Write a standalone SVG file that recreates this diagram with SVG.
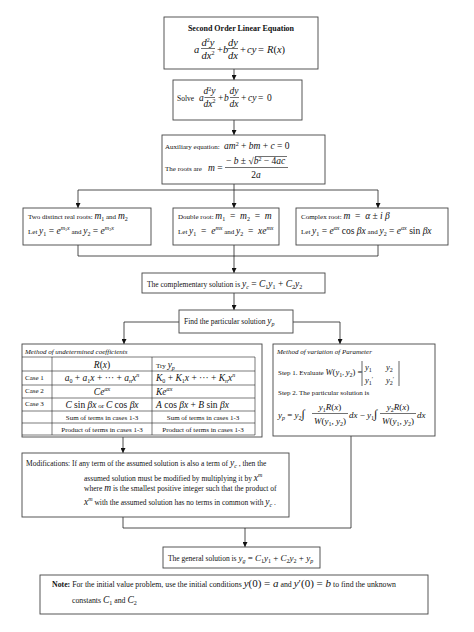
<svg xmlns="http://www.w3.org/2000/svg" width="474" height="632" viewBox="0 0 474 632">
<style>
text{font-family:"Liberation Serif","Times New Roman",serif;font-size:7px;fill:#111}
.m{font-style:italic;font-size:9.5px}
.r{font-style:normal}
.s{font-size:6px}
.b{font-weight:bold}
.i{font-style:italic}
.o{font-size:9.5px}
.e{font-size:10.5px}
.t75{font-size:7.5px}
.box{fill:#fff;stroke:#444;stroke-width:0.9}
.ln{stroke:#222;stroke-width:0.8;fill:none}
.bar{stroke:#111;stroke-width:0.6}
</style>
<defs>
<marker id="ah" markerWidth="5" markerHeight="5" refX="5" refY="2.5" orient="auto" markerUnits="userSpaceOnUse"><path d="M0,0 L5,2.5 L0,5 z" fill="#111"/></marker>
</defs>
<rect width="474" height="632" fill="#fff"/>

<g id="connectors">
<path class="ln" d="M234,69 V80" marker-end="url(#ah)"/>
<path class="ln" d="M234,120 V135" marker-end="url(#ah)"/>
<path class="ln" d="M234,184 V190 M78,190 H378"/>
<path class="ln" d="M78,190 V208" marker-end="url(#ah)"/>
<path class="ln" d="M234,190 V208" marker-end="url(#ah)"/>
<path class="ln" d="M378,190 V208" marker-end="url(#ah)"/>
<path class="ln" d="M78,245 V256 M234,245 V256 M378,245 V256 M78,256 H378"/>
<path class="ln" d="M234,256 V273" marker-end="url(#ah)"/>
<path class="ln" d="M234,293 V310" marker-end="url(#ah)"/>
<path class="ln" d="M179,322 H124 V344" marker-end="url(#ah)"/>
<path class="ln" d="M293,322 H340 V344" marker-end="url(#ah)"/>
<path class="ln" d="M123,437 V453" marker-end="url(#ah)"/>
<path class="ln" d="M123,517 V528 H351 V436"/>
<path class="ln" d="M245,528 V547" marker-end="url(#ah)"/>
</g>

<g id="n1">
<rect class="box" x="164" y="17" width="154" height="52"/>
<text x="241" y="31" text-anchor="middle" class="b" style="font-size:8px">Second Order Linear Equation</text>
<text x="194" y="53" class="m e">a</text>
<text x="208" y="45.5" text-anchor="middle" class="m e">d<tspan class="s r" dy="-4">2</tspan><tspan dy="4">y</tspan></text>
<line class="bar" x1="201" y1="48.5" x2="215" y2="48.5"/>
<text x="208" y="58.5" text-anchor="middle" class="m e">dx<tspan class="s r" dy="-4">2</tspan></text>
<text x="217" y="53" class="e">+</text>
<text x="223" y="53" class="m e">b</text>
<text x="233" y="45.5" text-anchor="middle" class="m e">dy</text>
<line class="bar" x1="228" y1="48.5" x2="238" y2="48.5"/>
<text x="233" y="58.5" text-anchor="middle" class="m e">dx</text>
<text x="240" y="53" class="e">+</text>
<text x="247" y="53" class="m e">cy</text>
<text x="258" y="53" class="e">=</text>
<text x="267" y="53" class="m e">R<tspan class="r">(</tspan>x<tspan class="r">)</tspan></text>
</g>

<g id="n2">
<rect class="box" x="173" y="80" width="129" height="40"/>
<text x="177" y="101" class="t75">Solve</text>
<text x="199" y="101" class="m">a</text>
<text x="209.5" y="94" text-anchor="middle" class="m">d<tspan class="s r" dy="-3.5">2</tspan><tspan dy="3.5">y</tspan></text>
<line class="bar" x1="204.5" y1="97.5" x2="215" y2="97.5"/>
<text x="209.5" y="106.5" text-anchor="middle" class="m">dx<tspan class="s r" dy="-3.5">2</tspan></text>
<text x="218" y="101" class="o">+</text>
<text x="224" y="101" class="m">b</text>
<text x="234" y="94" text-anchor="middle" class="m">dy</text>
<line class="bar" x1="230" y1="97.5" x2="239" y2="97.5"/>
<text x="234" y="106.5" text-anchor="middle" class="m">dx</text>
<text x="241" y="101" class="o">+</text>
<text x="248" y="101" class="m">cy</text>
<text x="258" y="101" class="o">=</text>
<text x="267" y="101" class="o">0</text>
</g>

<g id="n3">
<rect class="box" x="162" y="135" width="163" height="49"/>
<text x="165" y="149">Auxiliary equation:</text>
<text x="224" y="149" class="m">am<tspan class="s r" dy="-3.5">2</tspan><tspan class="r" dy="3.5"> + </tspan>bm<tspan class="r"> + </tspan>c<tspan class="r"> = 0</tspan></text>
<text x="165" y="171">The roots are</text>
<text x="208" y="171" class="m">m<tspan class="r"> =</tspan></text>
<text x="226" y="164" class="m"><tspan class="r">− </tspan>b<tspan class="r"> ± √</tspan>b<tspan class="s r" dy="-3.5">2</tspan><tspan class="r" dy="3.5"> − 4</tspan>ac</text>
<line class="bar" x1="255" y1="156.5" x2="287" y2="156.5"/>
<line class="bar" x1="225" y1="167.5" x2="288" y2="167.5"/>
<text x="256" y="178" text-anchor="middle" class="m"><tspan class="r">2</tspan>a</text>
</g>

<g id="n4">
<rect class="box" x="23" y="208" width="128" height="37"/>
<text x="28" y="219">Two distinct real roots: <tspan class="m">m</tspan><tspan class="s" dy="2">1</tspan><tspan dy="-2"> and </tspan><tspan class="m">m</tspan><tspan class="s" dy="2">2</tspan></text>
<text x="28" y="234">Let <tspan class="m">y</tspan><tspan class="s" dy="2">1</tspan><tspan dy="-2" class="o"> = </tspan><tspan class="m">e</tspan><tspan class="s i" dy="-4">m</tspan><tspan style="font-size:4px" dy="1">1</tspan><tspan class="s i" dy="-1">x</tspan><tspan dy="4"> and </tspan><tspan class="m">y</tspan><tspan class="s" dy="2">2</tspan><tspan dy="-2" class="o"> = </tspan><tspan class="m">e</tspan><tspan class="s i" dy="-4">m</tspan><tspan style="font-size:4px" dy="1">2</tspan><tspan class="s i" dy="-1">x</tspan></text>
</g>

<g id="n5">
<rect class="box" x="173" y="208" width="106" height="37"/>
<text x="178" y="219">Double root: <tspan class="m">m</tspan><tspan class="s" dy="2">1</tspan><tspan dy="-2" class="o">&#8194;=&#8194;</tspan><tspan class="m">m</tspan><tspan class="s" dy="2">2</tspan><tspan dy="-2" class="o">&#8194;=&#8194;</tspan><tspan class="m">m</tspan></text>
<text x="178" y="234">Let <tspan class="m">y</tspan><tspan class="s" dy="2">1</tspan><tspan dy="-2" class="o">&#8194;=&#8194;</tspan><tspan class="m">e</tspan><tspan class="s i" dy="-4">mx</tspan><tspan dy="4"> and </tspan><tspan class="m">y</tspan><tspan class="s" dy="2">2</tspan><tspan dy="-2" class="o">&#8194;=&#8194;</tspan><tspan class="m">xe</tspan><tspan class="s i" dy="-4">mx</tspan></text>
</g>

<g id="n6">
<rect class="box" x="296" y="208" width="152" height="37"/>
<text x="301" y="219">Complex root: <tspan class="m">m</tspan><tspan class="o">&#8194;=&#8194;</tspan><tspan class="m">α</tspan><tspan class="o"> ± </tspan><tspan class="m">i β</tspan></text>
<text x="301" y="234">Let <tspan class="m">y</tspan><tspan class="s" dy="2">1</tspan><tspan dy="-2" class="o"> = </tspan><tspan class="m">e</tspan><tspan class="s i" dy="-4">αx</tspan><tspan dy="4" class="o"> cos </tspan><tspan class="m">βx</tspan> and <tspan class="m">y</tspan><tspan class="s" dy="2">2</tspan><tspan dy="-2" class="o"> = </tspan><tspan class="m">e</tspan><tspan class="s i" dy="-4">αx</tspan><tspan dy="4" class="o"> sin </tspan><tspan class="m">βx</tspan></text>
</g>

<g id="n7">
<rect class="box" x="142" y="273" width="183" height="20"/>
<text x="147" y="287" class="t75">The complementary solution is <tspan class="m">y</tspan><tspan class="s i" dy="2">c</tspan><tspan dy="-2" class="o"> = </tspan><tspan class="m">C</tspan><tspan class="s" dy="2">1</tspan><tspan class="m" dy="-2">y</tspan><tspan class="s" dy="2">1</tspan><tspan dy="-2" class="o"> + </tspan><tspan class="m">C</tspan><tspan class="s" dy="2">2</tspan><tspan class="m" dy="-2">y</tspan><tspan class="s" dy="2">2</tspan></text>
</g>

<g id="n8">
<rect class="box" x="179" y="310" width="114" height="23"/>
<text x="184" y="324" class="t75">Find the particular solution <tspan class="m">y</tspan><tspan class="s i" dy="2">p</tspan></text>
</g>

<g id="n9">
<rect class="box" x="22" y="344" width="240" height="93"/>
<path class="ln" style="stroke-width:0.6" d="M22,357 H255 M22,371 H255 M22,385 H255 M22,398 H255 M22,411 H255 M22,423 H255 M22,435 H255 M52,357 V435 M152,357 V435 M255,357 V435"/>
<text x="25" y="354" class="i">Method of undetermined coefficients</text>
<text x="102" y="368" text-anchor="middle" class="m">R<tspan class="r">(</tspan>x<tspan class="r">)</tspan></text>
<text x="156" y="368">Try <tspan class="m">y</tspan><tspan class="s i" dy="2">p</tspan></text>
<text x="25" y="380">Case 1</text>
<text x="102" y="381" text-anchor="middle" class="m">a<tspan class="s r" dy="2">0</tspan><tspan class="r" dy="-2"> + </tspan>a<tspan class="s r" dy="2">1</tspan><tspan dy="-2">x</tspan><tspan class="r"> + ··· + </tspan>a<tspan class="s" dy="2">n</tspan><tspan dy="-2">x</tspan><tspan class="s" dy="-4">n</tspan></text>
<text x="156" y="381" class="m">K<tspan class="s r" dy="2">0</tspan><tspan class="r" dy="-2"> + </tspan>K<tspan class="s r" dy="2">1</tspan><tspan dy="-2">x</tspan><tspan class="r"> + ··· + </tspan>K<tspan class="s" dy="2">n</tspan><tspan dy="-2">x</tspan><tspan class="s" dy="-4">n</tspan></text>
<text x="25" y="393">Case 2</text>
<text x="102" y="395" text-anchor="middle" class="m">Ce<tspan class="s" dy="-4">αx</tspan></text>
<text x="156" y="395" class="m">Ke<tspan class="s" dy="-4">αx</tspan></text>
<text x="25" y="406">Case 3</text>
<text x="102" y="408" text-anchor="middle" class="m">C<tspan class="r"> sin </tspan>βx<tspan class="r" style="font-size:7px"> or </tspan>C<tspan class="r"> cos </tspan>βx</text>
<text x="156" y="408" class="m">A<tspan class="r"> cos </tspan>βx<tspan class="r"> + </tspan>B<tspan class="r"> sin </tspan>βx</text>
<text x="102" y="420" text-anchor="middle">Sum of terms in cases 1-3</text>
<text x="203" y="420" text-anchor="middle">Sum of terms in cases 1-3</text>
<text x="102" y="432" text-anchor="middle">Product of terms in cases 1-3</text>
<text x="203" y="432" text-anchor="middle">Product of terms in cases 1-3</text>
</g>

<g id="n10">
<rect class="box" x="273" y="344" width="162" height="92"/>
<text x="277" y="354" class="i">Method of variation of Parameter</text>
<text x="278" y="375">Step 1. Evaluate <tspan class="m" style="font-size:8.5px">W</tspan><tspan style="font-size:8.5px">(</tspan><tspan class="m" style="font-size:8.5px">y</tspan><tspan class="s" dy="2">1</tspan><tspan dy="-2">, </tspan><tspan class="m" style="font-size:8.5px">y</tspan><tspan class="s" dy="2">2</tspan><tspan dy="-2" style="font-size:8.5px">) =</tspan></text>
<path class="ln" style="stroke-width:0.7" d="M362,361 V386 M399,361 V386"/>
<text x="365" y="370" class="m" style="font-size:8.5px">y<tspan class="s r" dy="2">1</tspan></text>
<text x="386" y="370" class="m" style="font-size:8.5px">y<tspan class="s r" dy="2">2</tspan></text>
<text x="365" y="383" class="m" style="font-size:8.5px">y<tspan class="s r" dy="2">1</tspan><tspan class="s r" dy="-4">′</tspan></text>
<text x="386" y="383" class="m" style="font-size:8.5px">y<tspan class="s r" dy="2">2</tspan><tspan class="s r" dy="-4">′</tspan></text>
<text x="278" y="395">Step 2. The particular solution is</text>
<text x="278" y="418" class="m" style="font-size:9px">y<tspan class="s" dy="2">p</tspan><tspan class="r" dy="-2"> = </tspan>y<tspan class="s r" dy="2">2</tspan><tspan class="r" dy="-2" style="font-size:12px">∫</tspan></text>
<text x="330" y="410" text-anchor="middle" class="m" style="font-size:9px">y<tspan class="s r" dy="2">1</tspan><tspan dy="-2">R</tspan><tspan class="r">(</tspan>x<tspan class="r">)</tspan></text>
<line class="bar" x1="312" y1="413.5" x2="348" y2="413.5"/>
<text x="330" y="424" text-anchor="middle" class="m" style="font-size:9px">W<tspan class="r">(</tspan>y<tspan class="s r" dy="2">1</tspan><tspan class="r" dy="-2">, </tspan>y<tspan class="s r" dy="2">2</tspan><tspan class="r" dy="-2">)</tspan></text>
<text x="349" y="418" class="m" style="font-size:9px">dx<tspan class="r"> − </tspan>y<tspan class="s r" dy="2">1</tspan><tspan class="r" dy="-2" style="font-size:12px">∫</tspan></text>
<text x="398" y="410" text-anchor="middle" class="m" style="font-size:9px">y<tspan class="s r" dy="2">2</tspan><tspan dy="-2">R</tspan><tspan class="r">(</tspan>x<tspan class="r">)</tspan></text>
<line class="bar" x1="380" y1="413.5" x2="416" y2="413.5"/>
<text x="398" y="424" text-anchor="middle" class="m" style="font-size:9px">W<tspan class="r">(</tspan>y<tspan class="s r" dy="2">1</tspan><tspan class="r" dy="-2">, </tspan>y<tspan class="s r" dy="2">2</tspan><tspan class="r" dy="-2">)</tspan></text>
<text x="417" y="418" class="m" style="font-size:9px">dx</text>
</g>

<g id="n11">
<rect class="box" x="22" y="453" width="267" height="64"/>
<text x="26" y="466" class="t75">Modifications: If any term of the assumed solution is also a term of <tspan class="m">y</tspan><tspan class="s i" dy="2">c</tspan><tspan dy="-2"> , then the</tspan></text>
<text x="84" y="481" class="t75">assumed solution must be modified by multiplying it by <tspan class="m">x</tspan><tspan class="s i" dy="-4">m</tspan></text>
<text x="84" y="491" class="t75">where <tspan class="m">m</tspan> is the smallest positive integer such that the product of</text>
<text x="84" y="505" class="t75"><tspan class="m">x</tspan><tspan class="s i" dy="-4">m</tspan><tspan dy="4"> with the assumed solution has no terms in common with </tspan><tspan class="m">y</tspan><tspan class="s i" dy="2">c</tspan><tspan dy="-2"> .</tspan></text>
</g>

<g id="n12">
<rect class="box" x="163" y="547" width="157" height="21"/>
<text x="168" y="561" class="t75">The general solution is <tspan class="m" style="font-size:9px">y</tspan><tspan class="s i" dy="2">g</tspan><tspan dy="-2" style="font-size:9px"> = </tspan><tspan class="m" style="font-size:9px">C</tspan><tspan class="s" dy="2">1</tspan><tspan class="m" style="font-size:9px" dy="-2">y</tspan><tspan class="s" dy="2">1</tspan><tspan dy="-2" style="font-size:9px"> + </tspan><tspan class="m" style="font-size:9px">C</tspan><tspan class="s" dy="2">2</tspan><tspan class="m" style="font-size:9px" dy="-2">y</tspan><tspan class="s" dy="2">2</tspan><tspan dy="-2" style="font-size:9px"> + </tspan><tspan class="m" style="font-size:9px">y</tspan><tspan class="s i" dy="2">p</tspan></text>
</g>

<g id="n13">
<rect class="box" x="40" y="575" width="388" height="39"/>
<text x="52" y="587" style="font-size:7.8px"><tspan class="b">Note:</tspan> For the initial value problem, use the initial conditions <tspan class="m" style="font-size:11px">y</tspan><tspan style="font-size:11px">(0) = </tspan><tspan class="m" style="font-size:11px">a</tspan> and <tspan class="m" style="font-size:11px">y</tspan><tspan style="font-size:11px">′(0) = </tspan><tspan class="m" style="font-size:11px">b</tspan> to find the unknown</text>
<text x="72" y="603" style="font-size:7.8px">constants <tspan class="m">C</tspan><tspan class="s" dy="2">1</tspan><tspan dy="-2"> and </tspan><tspan class="m">C</tspan><tspan class="s" dy="2">2</tspan></text>
</g>
</svg>
